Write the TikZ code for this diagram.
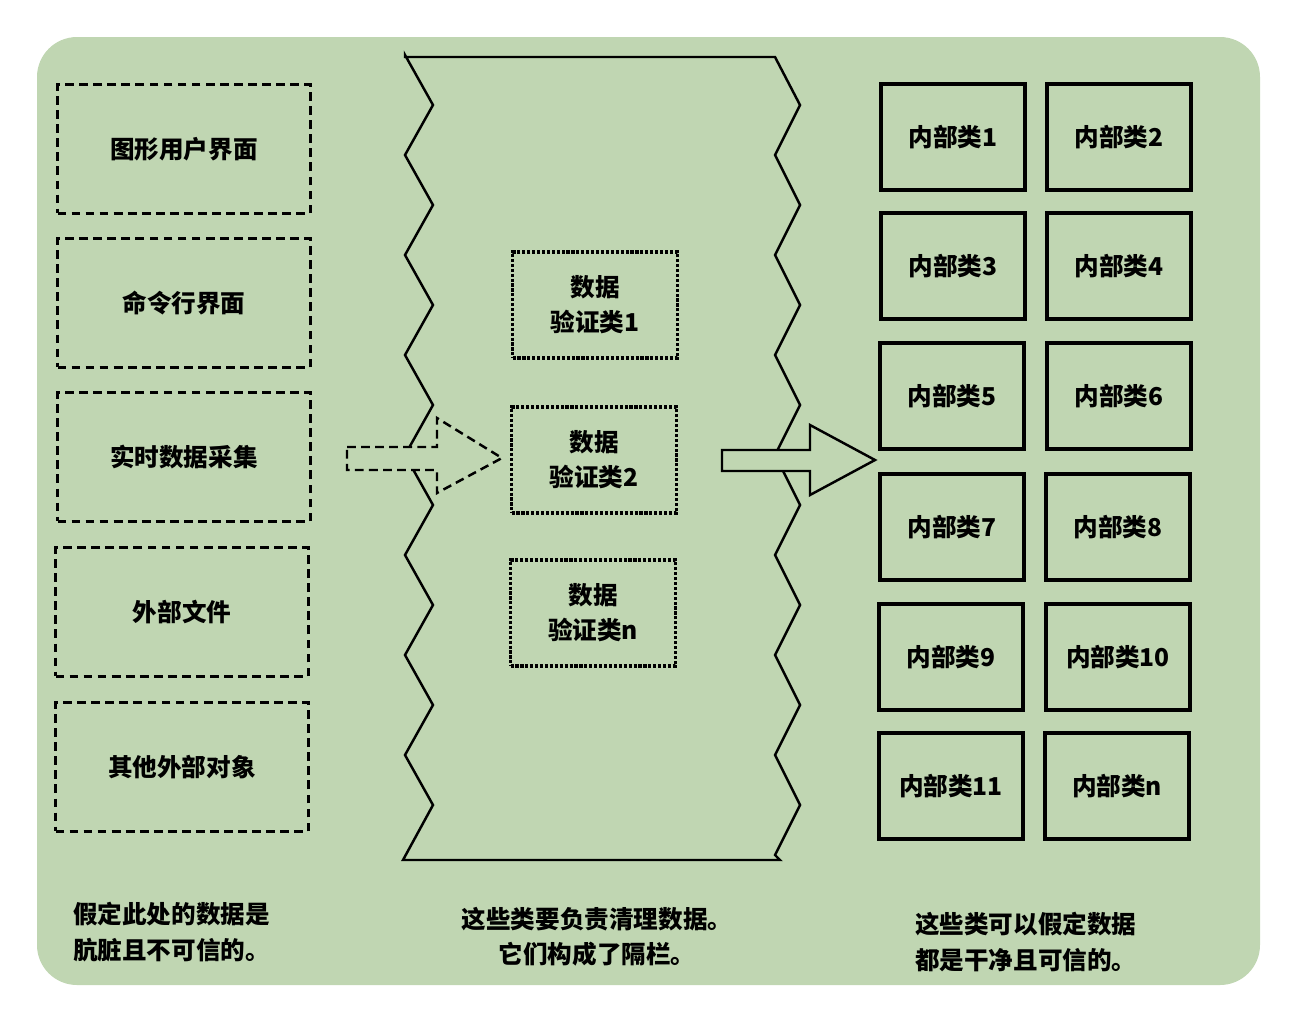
\documentclass[tikz,border=0pt]{standalone}
\usepackage{fontspec}
\newfontfamily\cjk{Noto Sans CJK SC}
\definecolor{bggreen}{RGB}{192,214,178}
\usetikzlibrary{positioning}
\begin{document}
\begin{tikzpicture}[x=0.02cm,y=-0.02cm,line width=1.4pt,
    every node/.style={font=\cjk\bfseries\fontsize{14}{20}\selectfont},
    srcbox/.style={draw,dashed,dash pattern=on 5pt off 3pt,minimum width=5.06cm,minimum height=2.58cm},
    chkbox/.style={draw,densely dotted,line width=1.8pt,align=center,minimum width=3.3cm,minimum height=2.12cm},
    inbox/.style={draw,line width=2pt,minimum width=2.88cm,minimum height=2.12cm,inner sep=0pt}]

    \useasboundingbox (0,0) rectangle (1296,1022);
    \fill[bggreen,rounded corners=0.8cm] (37,37) rectangle (1260,985);

    % sources
    \node[srcbox] (gui) at (184,149) {图形用户界面};
    \node[srcbox] (cli) at (184,303) {命令行界面};
    \node[srcbox] (rt) at (184,457) {实时数据采集};
    \node[srcbox] (file) at (182,612) {外部文件};
    \node[srcbox] (obj) at (182,767) {其他外部对象};

    % barricade
    \draw[fill=bggreen] (405,57) -- (775,57)
        \foreach \k in {0,...,7} { -- (800,105+100*\k) -- (775,155+100*\k) }
        -- (780,860) -- (403,860)
        \foreach \k in {0,...,7} { -- (433,805-100*\k) -- (405,755-100*\k) }
        -- cycle;

    \node[chkbox] (chk1) at (595,305) {数据\\验证类1};
    \node[chkbox] (chk2) at (594,460) {数据\\验证类2};
    \node[chkbox] (chkn) at (593,613) {数据\\验证类n};

    % arrows
    \draw[dashed,dash pattern=on 5pt off 3pt,fill=bggreen] (347,447) -- (437,447) -- (437,418) -- (502,458)
        -- (437,493) -- (437,470) -- (347,470) -- cycle;
    \draw[fill=bggreen] (722,450) -- (810,450) -- (810,425) -- (875,460)
        -- (810,495) -- (810,471) -- (722,471) -- cycle;

    % inner classes
    \node[inbox] (in1) at (953,137) {内部类1};
    \node[inbox] (in2) at (1119,137) {内部类2};
    \node[inbox] (in3) at (953,266) {内部类3};
    \node[inbox] (in4) at (1119,266) {内部类4};
    \node[inbox] (in5) at (952,396) {内部类5};
    \node[inbox] (in6) at (1119,396) {内部类6};
    \node[inbox] (in7) at (952,527) {内部类7};
    \node[inbox] (in8) at (1118,527) {内部类8};
    \node[inbox] (in9) at (951,657) {内部类9};
    \node[inbox] (in10) at (1118,657) {内部类10};
    \node[inbox] (in11) at (951,786) {内部类11};
    \node[inbox] (inn) at (1117,786) {内部类n};

    % notes
    \node[align=left,anchor=west] (ndirty) at (66,932) {假定此处的数据是\\肮脏且不可信的。};
    \node[align=center] (nclean) at (597,937) {这些类要负责清理数据。\\它们构成了隔栏。};
    \node[align=left,anchor=west] (ntrust) at (908,942) {这些类可以假定数据\\都是干净且可信的。};
\end{tikzpicture}
\end{document}
